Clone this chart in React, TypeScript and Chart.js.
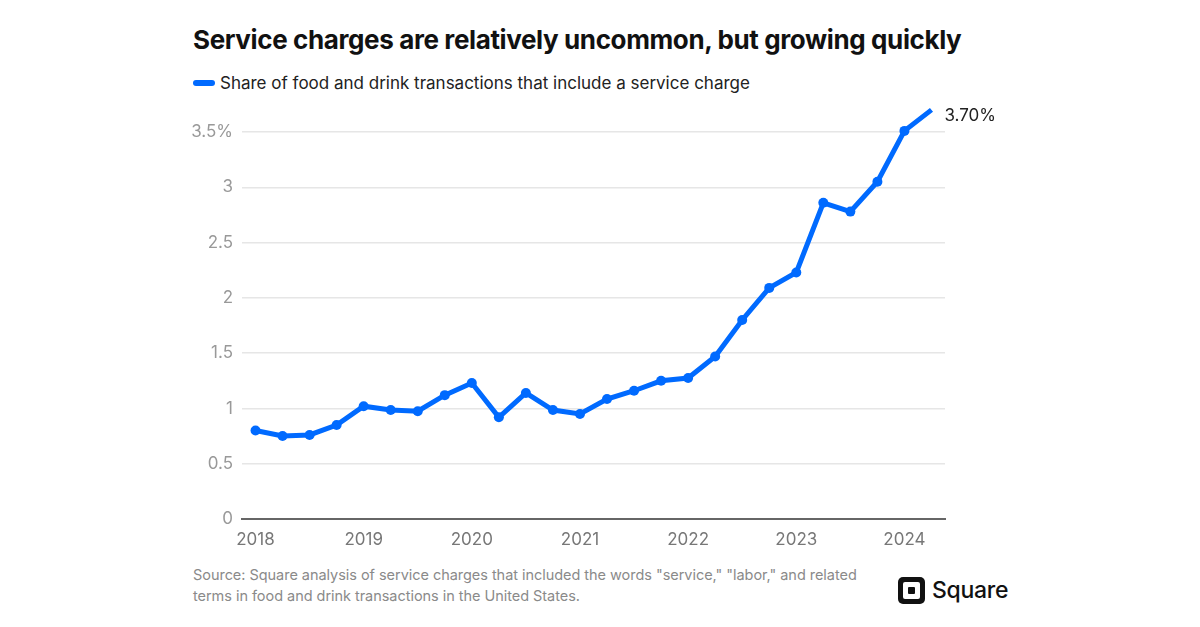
import React, { useEffect, useRef } from "react";
import { Chart, registerables } from "chart.js";

Chart.register(...registerables);

const quarters: string[] = [
  "2018 Q1", "2018 Q2", "2018 Q3", "2018 Q4",
  "2019 Q1", "2019 Q2", "2019 Q3", "2019 Q4",
  "2020 Q1", "2020 Q2", "2020 Q3", "2020 Q4",
  "2021 Q1", "2021 Q2", "2021 Q3", "2021 Q4",
  "2022 Q1", "2022 Q2", "2022 Q3", "2022 Q4",
  "2023 Q1", "2023 Q2", "2023 Q3", "2023 Q4",
  "2024 Q1", "2024 Q2",
];

const serviceChargeShare: number[] = [
  0.8, 0.75, 0.76, 0.85,
  1.02, 0.985, 0.975, 1.12,
  1.23, 0.92, 1.14, 0.985,
  0.95, 1.085, 1.16, 1.25,
  1.275, 1.47, 1.8, 2.09,
  2.23, 2.86, 2.78, 3.05,
  3.51, 3.7,
];

const yTicks: number[] = [0, 0.5, 1, 1.5, 2, 2.5, 3, 3.5];

const lastLabel = "3.70%";
const seriesLabel = "Share of food and drink transactions that include a service charge";
const FONT = "Inter, 'Noto Sans', sans-serif";
const BLUE = "#006aff";

const endLabelPlugin = {
  id: "endLabel",
  afterDatasetsDraw(chart: any) {
    const meta = chart.getDatasetMeta(0);
    const pt = meta.data[meta.data.length - 1];
    if (!pt) return;
    const ctx = chart.ctx;
    ctx.save();
    ctx.font = `17px ${FONT}`;
    ctx.fillStyle = "#222";
    ctx.textAlign = "left";
    ctx.textBaseline = "middle";
    ctx.fillText(lastLabel, pt.x + 13, pt.y + 6);
    ctx.restore();
  },
};

function LineChart() {
  const ref = useRef<HTMLCanvasElement | null>(null);
  useEffect(() => {
    if (!ref.current) return;
    const chart = new Chart(ref.current, {
      type: "line",
      data: {
        labels: quarters,
        datasets: [
          {
            label: seriesLabel,
            data: serviceChargeShare,
            borderColor: BLUE,
            backgroundColor: BLUE,
            borderWidth: 5,
            pointRadius: 5,
            pointHoverRadius: 5,
            pointBackgroundColor: BLUE,
            pointBorderWidth: 0,
            tension: 0,
            clip: false as any,
          },
        ],
      },
      options: {
        animation: false,
        responsive: true,
        maintainAspectRatio: false,
        layout: { padding: { top: 32, right: 75, left: 0, bottom: 0 } },
        plugins: {
          legend: { display: false },
          tooltip: { enabled: false },
        },
        scales: {
          x: {
            type: "category",
            offset: true,
            grid: { display: false, drawTicks: false },
            border: { display: true, color: "#666", width: 2 },
            ticks: {
              color: "#777",
              font: { family: FONT, size: 17 },
              padding: 11,
              autoSkip: false,
              maxRotation: 0,
              callback: (_v: any, i: number) => (i % 4 === 0 ? quarters[i].slice(0, 4) : ""),
            },
            afterFit: (scale: any) => {
              scale.height = 31;
            },
          },
          y: {
            type: "linear",
            min: 0,
            max: 3.5,
            border: { display: false },
            grid: { color: "#e6e6e6", lineWidth: 1.5, drawTicks: false },
            afterBuildTicks: (scale: any) => {
              scale.ticks = yTicks.map((v) => ({ value: v }));
            },
            ticks: {
              color: "#999",
              font: { family: FONT, size: 17 },
              padding: 9,
              callback: (v: any) => (v === 3.5 ? "3.5%" : String(v)),
            },
            afterFit: (scale: any) => {
              scale.width = 62;
            },
          },
        },
      },
      plugins: [endLabelPlugin],
    });
    return () => chart.destroy();
  }, []);
  return <canvas ref={ref} />;
}

export default function App() {
  return (
    <div
      style={{
        position: "absolute",
        left: 0,
        top: 0,
        width: 1200,
        height: 627,
        background: "#fff",
        fontFamily: FONT,
        overflow: "hidden",
      }}
    >
      <div
        style={{
          position: "absolute",
          left: 193,
          top: 24,
          fontSize: 26,
          fontWeight: 700,
          color: "#111",
          letterSpacing: -0.38,
          whiteSpace: "nowrap",
        }}
      >
        Service charges are relatively uncommon, but growing quickly
      </div>
      <div
        style={{
          position: "absolute",
          left: 193,
          top: 73,
          display: "flex",
          alignItems: "center",
          fontSize: 17,
          color: "#222",
          whiteSpace: "nowrap",
        }}
      >
        <span
          style={{
            display: "inline-block",
            width: 22,
            height: 6,
            borderRadius: 3,
            background: BLUE,
            marginRight: 5,
          }}
        />
        {seriesLabel}
      </div>
      <div style={{ position: "absolute", left: 180, top: 100, width: 840, height: 450 }}>
        <LineChart />
      </div>
      <div
        style={{
          position: "absolute",
          left: 193,
          top: 564,
          fontSize: 14.5,
          lineHeight: "21px",
          color: "#8a8a8a",
          letterSpacing: -0.04,
          whiteSpace: "nowrap",
        }}
      >
        Source: Square analysis of service charges that included the words "service," "labor," and related
        <br />
        terms in food and drink transactions in the United States.
      </div>
      <div
        style={{
          position: "absolute",
          left: 898,
          top: 576,
          display: "flex",
          alignItems: "center",
        }}
      >
        <div
          style={{
            width: 27,
            height: 27,
            borderRadius: 5,
            background: "#111",
            display: "flex",
            alignItems: "center",
            justifyContent: "center",
          }}
        >
          <div
            style={{
              width: 17,
              height: 17,
              borderRadius: 2,
              background: "#fff",
              display: "flex",
              alignItems: "center",
              justifyContent: "center",
            }}
          >
            <div style={{ width: 7, height: 7, borderRadius: 1, background: "#111" }} />
          </div>
        </div>
        <span style={{ marginLeft: 7, fontSize: 23, fontWeight: 500, color: "#111", letterSpacing: -0.3 }}>
          Square
        </span>
      </div>
    </div>
  );
}
